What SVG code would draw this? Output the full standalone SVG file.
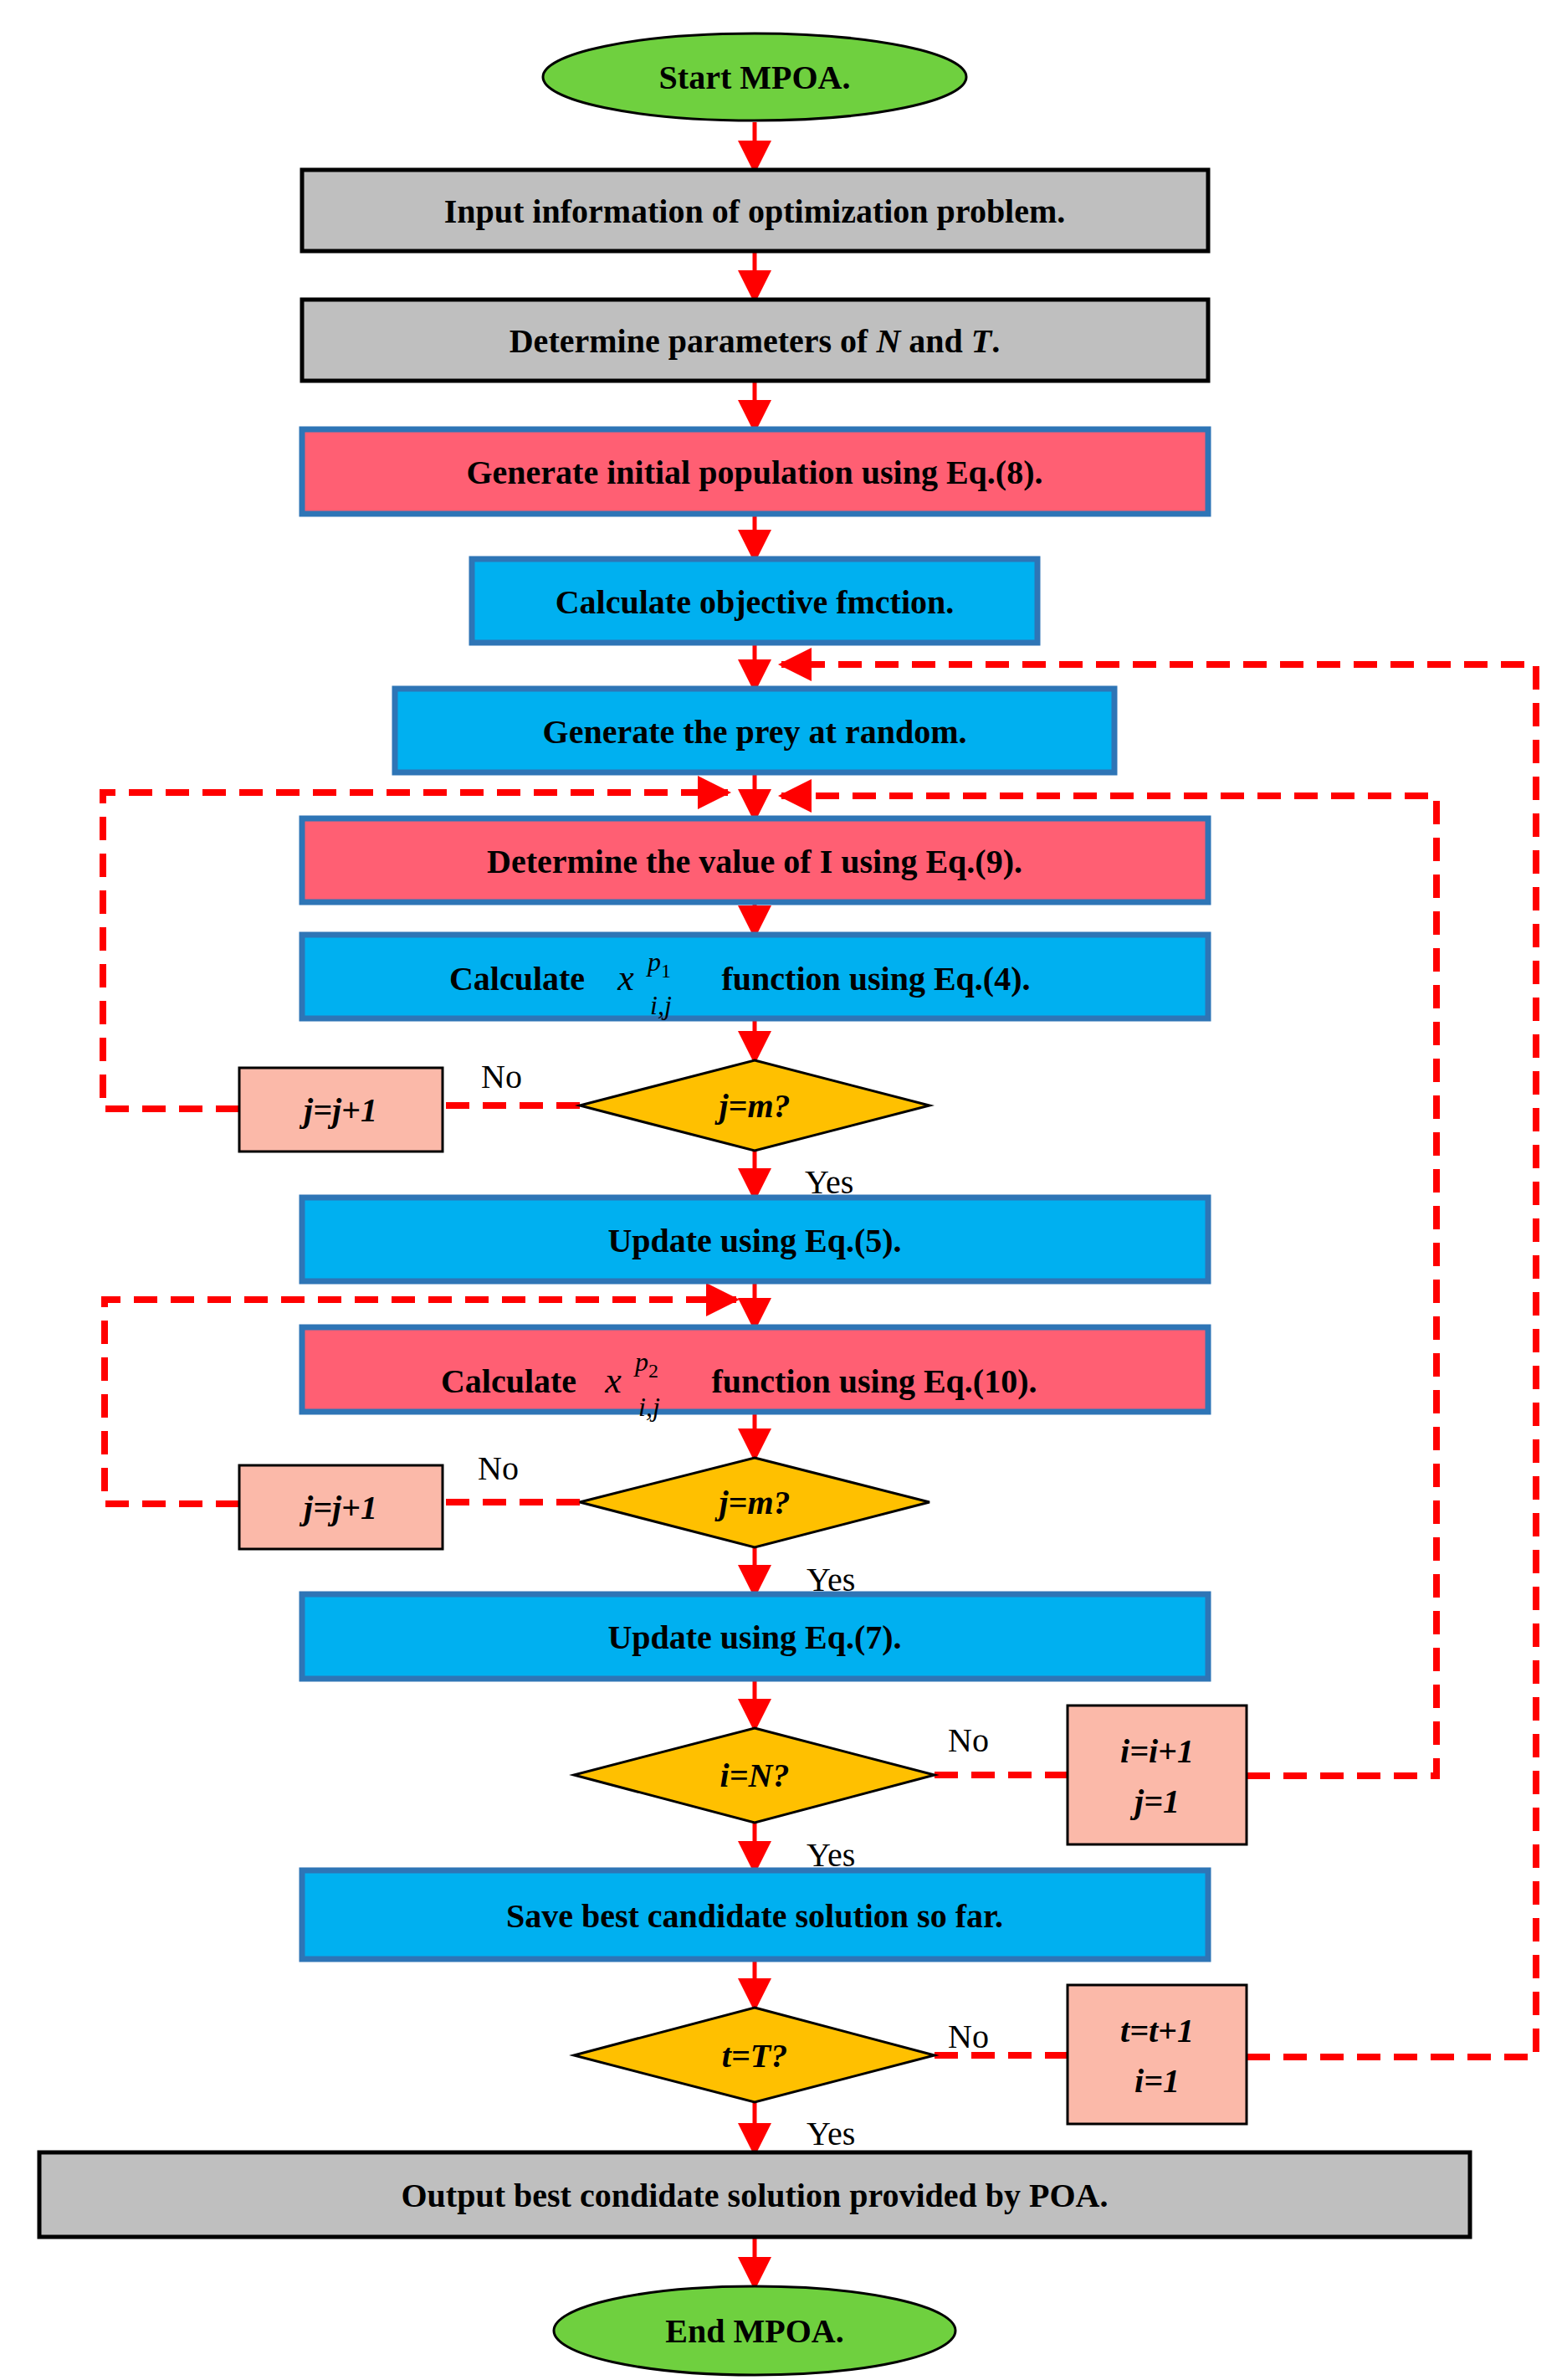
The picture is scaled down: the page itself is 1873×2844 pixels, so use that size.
<svg xmlns="http://www.w3.org/2000/svg" width="1873" height="2844" viewBox="0 0 1873 2844">
<style>
text{font-family:"Liberation Serif","Times New Roman",serif;font-size:40px;font-weight:bold;text-anchor:middle;fill:#000}
.gray{fill:#BFBFBF;stroke:#000;stroke-width:5}
.pink{fill:#FF5F73;stroke:#2E75B6;stroke-width:7}
.blue{fill:#00B0F0;stroke:#2E75B6;stroke-width:7}
.dia{fill:#FFC000;stroke:#000;stroke-width:3}
.inc{fill:#FBB9A9;stroke:#000;stroke-width:3}
.ell{fill:#6FD03F;stroke:#000;stroke-width:3}
.lbl{font-weight:normal;text-anchor:start}
.it{font-style:italic}
.flow{stroke:#FF0000;stroke-width:5;fill:none;marker-end:url(#ah)}
.dash{stroke:#FF0000;stroke-width:8;fill:none;stroke-dasharray:28,16}
</style>
<defs>
<marker id="ah" markerWidth="8" markerHeight="8" refX="7" refY="4" orient="auto" markerUnits="strokeWidth"><path d="M0,0 L8,4 L0,8 Z" fill="#FF0000"/></marker>
<marker id="ah2" markerWidth="5" markerHeight="5" refX="4.5" refY="2.5" orient="auto" markerUnits="strokeWidth"><path d="M0,0 L5,2.5 L0,5 Z" fill="#FF0000"/></marker>
</defs>
<g id="connectors">
<path class="flow" d="M902,146 V203"/>
<path class="flow" d="M902,300 V358"/>
<path class="flow" d="M902,455 V513"/>
<path class="flow" d="M902,614 V668"/>
<path class="flow" d="M902,768 V823"/>
<path class="flow" d="M902,923 V978"/>
<path class="flow" d="M902,1078 V1117"/>
<path class="flow" d="M902,1217 V1267"/>
<path class="flow" d="M902,1375 V1431"/>
<path class="flow" d="M902,1531 V1586"/>
<path class="flow" d="M902,1687 V1742"/>
<path class="flow" d="M902,1849 V1905"/>
<path class="flow" d="M902,2006 V2065"/>
<path class="flow" d="M902,2178 V2235"/>
<path class="flow" d="M902,2341 V2399"/>
<path class="flow" d="M902,2512 V2572"/>
<path class="flow" d="M902,2673 V2732"/>
<path class="dash" d="M693,1321 H529 M286,1325 H123 V947 H870" marker-end="url(#ah2)"/>
<path class="dash" d="M693,1795 H529 M286,1797 H125 V1553 H880" marker-end="url(#ah2)"/>
<path class="dash" d="M1117,2121 H1276 M1490,2122 H1717 V951 H934" marker-end="url(#ah2)"/>
<path class="dash" d="M1117,2456 H1276 M1490,2458 H1836 V794 H934" marker-end="url(#ah2)"/>
</g>
<g id="start"><ellipse class="ell" cx="902" cy="92" rx="253" ry="52"/><text x="902" y="106">Start MPOA.</text></g>
<g id="input"><rect class="gray" x="361" y="203" width="1083" height="97"/><text x="902" y="266">Input information of optimization problem.</text></g>
<g id="params"><rect class="gray" x="361" y="358" width="1083" height="97"/><text x="902" y="421">Determine parameters of <tspan class="it">N</tspan> and <tspan class="it">T</tspan>.</text></g>
<g id="init"><rect class="pink" x="361" y="513" width="1083" height="101"/><text x="902" y="578">Generate initial population using Eq.(8).</text></g>
<g id="obj"><rect class="blue" x="564" y="668" width="676" height="100"/><text x="902" y="733">Calculate objective fmction.</text></g>
<g id="prey"><rect class="blue" x="472" y="823" width="860" height="100"/><text x="902" y="888">Generate the prey at random.</text></g>
<g id="detI"><rect class="pink" x="361" y="978" width="1083" height="100"/><text x="902" y="1043">Determine the value of I using Eq.(9).</text></g>
<g id="calc1"><rect class="blue" x="361" y="1117" width="1083" height="100"/>
<text x="618" y="1183">Calculate</text>
<text x="748" y="1183" class="it" style="font-weight:normal;font-size:44px">x</text>
<text x="788" y="1160" class="it" style="font-weight:normal;font-size:32px">p<tspan class="it" style="font-style:normal;font-size:24px" dy="8">1</tspan></text>
<text x="790" y="1212" class="it" style="font-weight:normal;font-size:32px">i,j</text>
<text x="1047" y="1183">function using Eq.(4).</text></g>
<g id="d1"><polygon class="dia" points="902,1267 1111,1321 902,1375 693,1321"/><text x="902" y="1335" class="it">j=m?</text></g>
<g id="inc1"><rect class="inc" x="286" y="1276" width="243" height="100"/><text x="407" y="1340" class="it">j=j+1</text></g>
<text class="lbl" x="575" y="1300">No</text>
<text class="lbl" x="962" y="1426">Yes</text>
<g id="upd5"><rect class="blue" x="361" y="1431" width="1083" height="100"/><text x="902" y="1496">Update  using Eq.(5).</text></g>
<g id="calc2"><rect class="pink" x="361" y="1586" width="1083" height="101"/>
<text x="608" y="1664">Calculate</text>
<text x="733" y="1664" class="it" style="font-weight:normal;font-size:44px">x</text>
<text x="773" y="1638" class="it" style="font-weight:normal;font-size:32px">p<tspan style="font-style:normal;font-size:24px" dy="8">2</tspan></text>
<text x="776" y="1692" class="it" style="font-weight:normal;font-size:32px">i,j</text>
<text x="1045" y="1664">function using Eq.(10).</text></g>
<g id="d2"><polygon class="dia" points="902,1742 1111,1795 902,1849 693,1795"/><text x="902" y="1809" class="it">j=m?</text></g>
<g id="inc2"><rect class="inc" x="286" y="1751" width="243" height="100"/><text x="407" y="1815" class="it">j=j+1</text></g>
<text class="lbl" x="571" y="1768">No</text>
<text class="lbl" x="964" y="1901">Yes</text>
<g id="upd7"><rect class="blue" x="361" y="1905" width="1083" height="101"/><text x="902" y="1970">Update  using Eq.(7).</text></g>
<g id="d3"><polygon class="dia" points="902,2065 1117,2121 902,2178 686,2121"/><text x="902" y="2135" class="it">i=N?</text></g>
<g id="inc3"><rect class="inc" x="1276" y="2038" width="214" height="166"/><text x="1383" y="2106" class="it">i=i+1</text><text x="1383" y="2166" class="it">j=1</text></g>
<text class="lbl" x="1133" y="2093">No</text>
<text class="lbl" x="964" y="2230">Yes</text>
<g id="save"><rect class="blue" x="361" y="2235" width="1083" height="106"/><text x="902" y="2303">Save best candidate solution so far.</text></g>
<g id="d4"><polygon class="dia" points="902,2399 1117,2456 902,2512 686,2456"/><text x="902" y="2470" class="it">t=T?</text></g>
<g id="inc4"><rect class="inc" x="1276" y="2372" width="214" height="166"/><text x="1383" y="2440" class="it">t=t+1</text><text x="1383" y="2500" class="it">i=1</text></g>
<text class="lbl" x="1133" y="2447">No</text>
<text class="lbl" x="964" y="2563">Yes</text>
<g id="output"><rect class="gray" x="47" y="2572" width="1710" height="101"/><text x="902" y="2637">Output best condidate solution provided by POA.</text></g>
<g id="end"><ellipse class="ell" cx="902" cy="2785" rx="240" ry="53"/><text x="902" y="2799">End MPOA.</text></g>
</svg>
